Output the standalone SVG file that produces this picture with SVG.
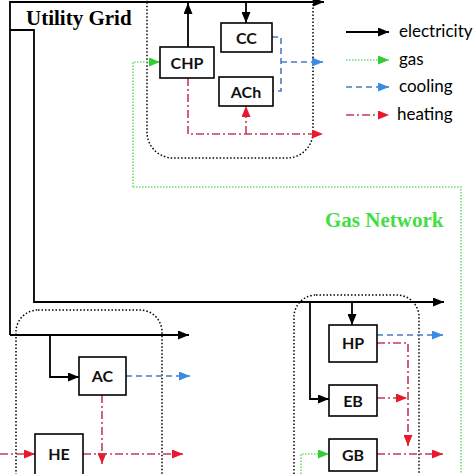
<svg xmlns="http://www.w3.org/2000/svg" width="474" height="474" viewBox="0 0 474 474">
<defs>
<style>
.box{fill:#fff;stroke:#000;stroke-width:1.6}
.lbl{font-family:Lato,"Open Sans",sans-serif;font-weight:bold;font-size:16px;text-anchor:middle;fill:#111}
.el{fill:none;stroke:#000;stroke-width:1.8}
.gas{fill:none;stroke:#6fdc6f;stroke-width:1.6;stroke-dasharray:1.5,1.5}
.cool{fill:none;stroke:#4a7cc4;stroke-width:1.6;stroke-dasharray:6,4}
.heat{fill:none;stroke:#c23c58;stroke-width:1.6;stroke-dasharray:8,3,2,3}
.zone{fill:none;stroke:#000;stroke-width:1.5;stroke-dasharray:1.5,2}
.leg{font-family:Lato,"Open Sans",sans-serif;font-size:17px;fill:#000}
.title{font-family:"Liberation Serif",serif;font-weight:bold;font-size:21px}
</style>
<marker id="aEl" markerUnits="userSpaceOnUse" markerWidth="11" markerHeight="9" refX="11" refY="4.5" orient="auto"><path d="M0,0 L11,4.5 L0,9 z" fill="#000"/></marker>
<marker id="aGas" markerUnits="userSpaceOnUse" markerWidth="11" markerHeight="9" refX="11" refY="4.5" orient="auto"><path d="M0,0 L11,4.5 L0,9 z" fill="#33cc33"/></marker>
<marker id="aCool" markerUnits="userSpaceOnUse" markerWidth="11" markerHeight="9" refX="11" refY="4.5" orient="auto"><path d="M0,0 L11,4.5 L0,9 z" fill="#3a8ae6"/></marker>
<marker id="aHeat" markerUnits="userSpaceOnUse" markerWidth="11" markerHeight="9" refX="11" refY="4.5" orient="auto"><path d="M0,0 L11,4.5 L0,9 z" fill="#e8192c"/></marker>
</defs>
<rect width="474" height="474" fill="#fff"/>

<g id="zones">
<rect class="zone" x="147" y="-25" width="166" height="183" rx="26"/>
<rect class="zone" x="16" y="310" width="146" height="200" rx="22"/>
<rect class="zone" x="294" y="295" width="125" height="200" rx="22"/>
</g>

<g id="connectors">
<path class="el" d="M10,335 V2 H324" marker-end="url(#aEl)"/>
<path class="el" d="M10,335 H189" marker-end="url(#aEl)"/>
<path class="el" d="M10,30 H34 V302 H444" marker-end="url(#aEl)"/>
<path class="el" d="M188,47 V3" marker-end="url(#aEl)"/>
<path class="el" d="M246,2 V23" marker-end="url(#aEl)"/>
<path class="el" d="M50,335 V377 H79" marker-end="url(#aEl)"/>
<path class="el" d="M352,302 V325" marker-end="url(#aEl)"/>
<path class="el" d="M310,302 V399 H329" marker-end="url(#aEl)"/>
<path class="gas" d="M133,187 V62 H160" marker-end="url(#aGas)"/>
<path class="gas" d="M133,187 H461 V474"/>
<path class="gas" d="M301,474 V454 H329" marker-end="url(#aGas)"/>
<path class="cool" d="M272,37 H281 V91 H273"/>
<path class="cool" d="M281,62 H323" marker-end="url(#aCool)"/>
<path class="cool" d="M126,376 H190" marker-end="url(#aCool)"/>
<path class="cool" d="M377,335 H443" marker-end="url(#aCool)"/>
<path class="heat" d="M188,78 V134 H323" marker-end="url(#aHeat)"/>
<path class="heat" d="M246,134 V106" marker-end="url(#aHeat)"/>
<path class="heat" d="M102,395 V464" marker-end="url(#aHeat)"/>
<path class="heat" d="M0,454 H35" marker-end="url(#aHeat)"/>
<path class="heat" d="M83,454 H183" marker-end="url(#aHeat)"/>
<path class="heat" d="M377,343 H408 V446" marker-end="url(#aHeat)"/>
<path class="heat" d="M377,398 H407" marker-end="url(#aHeat)"/>
<path class="heat" d="M377,454 H443" marker-end="url(#aHeat)"/>
</g>

<g id="CHP"><rect class="box" x="160" y="47" width="54" height="31"/><text class="lbl" x="187" y="68.5">CHP</text></g>
<g id="CC"><rect class="box" x="221" y="23" width="51" height="29"/><text class="lbl" x="246.5" y="43.5">CC</text></g>
<g id="ACh"><rect class="box" x="219" y="77" width="54" height="29"/><text class="lbl" x="246" y="97.5">ACh</text></g>
<g id="AC"><rect class="box" x="79" y="357" width="47" height="38"/><text class="lbl" x="102.5" y="382">AC</text></g>
<g id="HE"><rect class="box" x="35" y="434" width="48" height="50"/><text class="lbl" x="59" y="460">HE</text></g>
<g id="HP"><rect class="box" x="329" y="325" width="48" height="37"/><text class="lbl" x="353" y="349">HP</text></g>
<g id="EB"><rect class="box" x="329" y="385" width="48" height="31"/><text class="lbl" x="353" y="406.5">EB</text></g>
<g id="GB"><rect class="box" x="329" y="439" width="48" height="32"/><text class="lbl" x="353" y="460.5">GB</text></g>

<g id="titles">
<text class="title" x="26" y="25">Utility Grid</text>
<text class="title" x="325" y="227" fill="#44dd44">Gas Network</text>
</g>

<g id="legend">
<path class="el" d="M346,32 H389" marker-end="url(#aEl)"/>
<path class="gas" d="M346,60 H389" marker-end="url(#aGas)"/>
<path class="cool" d="M346,87 H389" marker-end="url(#aCool)"/>
<path class="heat" d="M346,115 H389" marker-end="url(#aHeat)"/>
<text class="leg" x="399" y="37">electricity</text>
<text class="leg" x="399" y="65">gas</text>
<text class="leg" x="399" y="92">cooling</text>
<text class="leg" x="397" y="120">heating</text>
</g>
</svg>
